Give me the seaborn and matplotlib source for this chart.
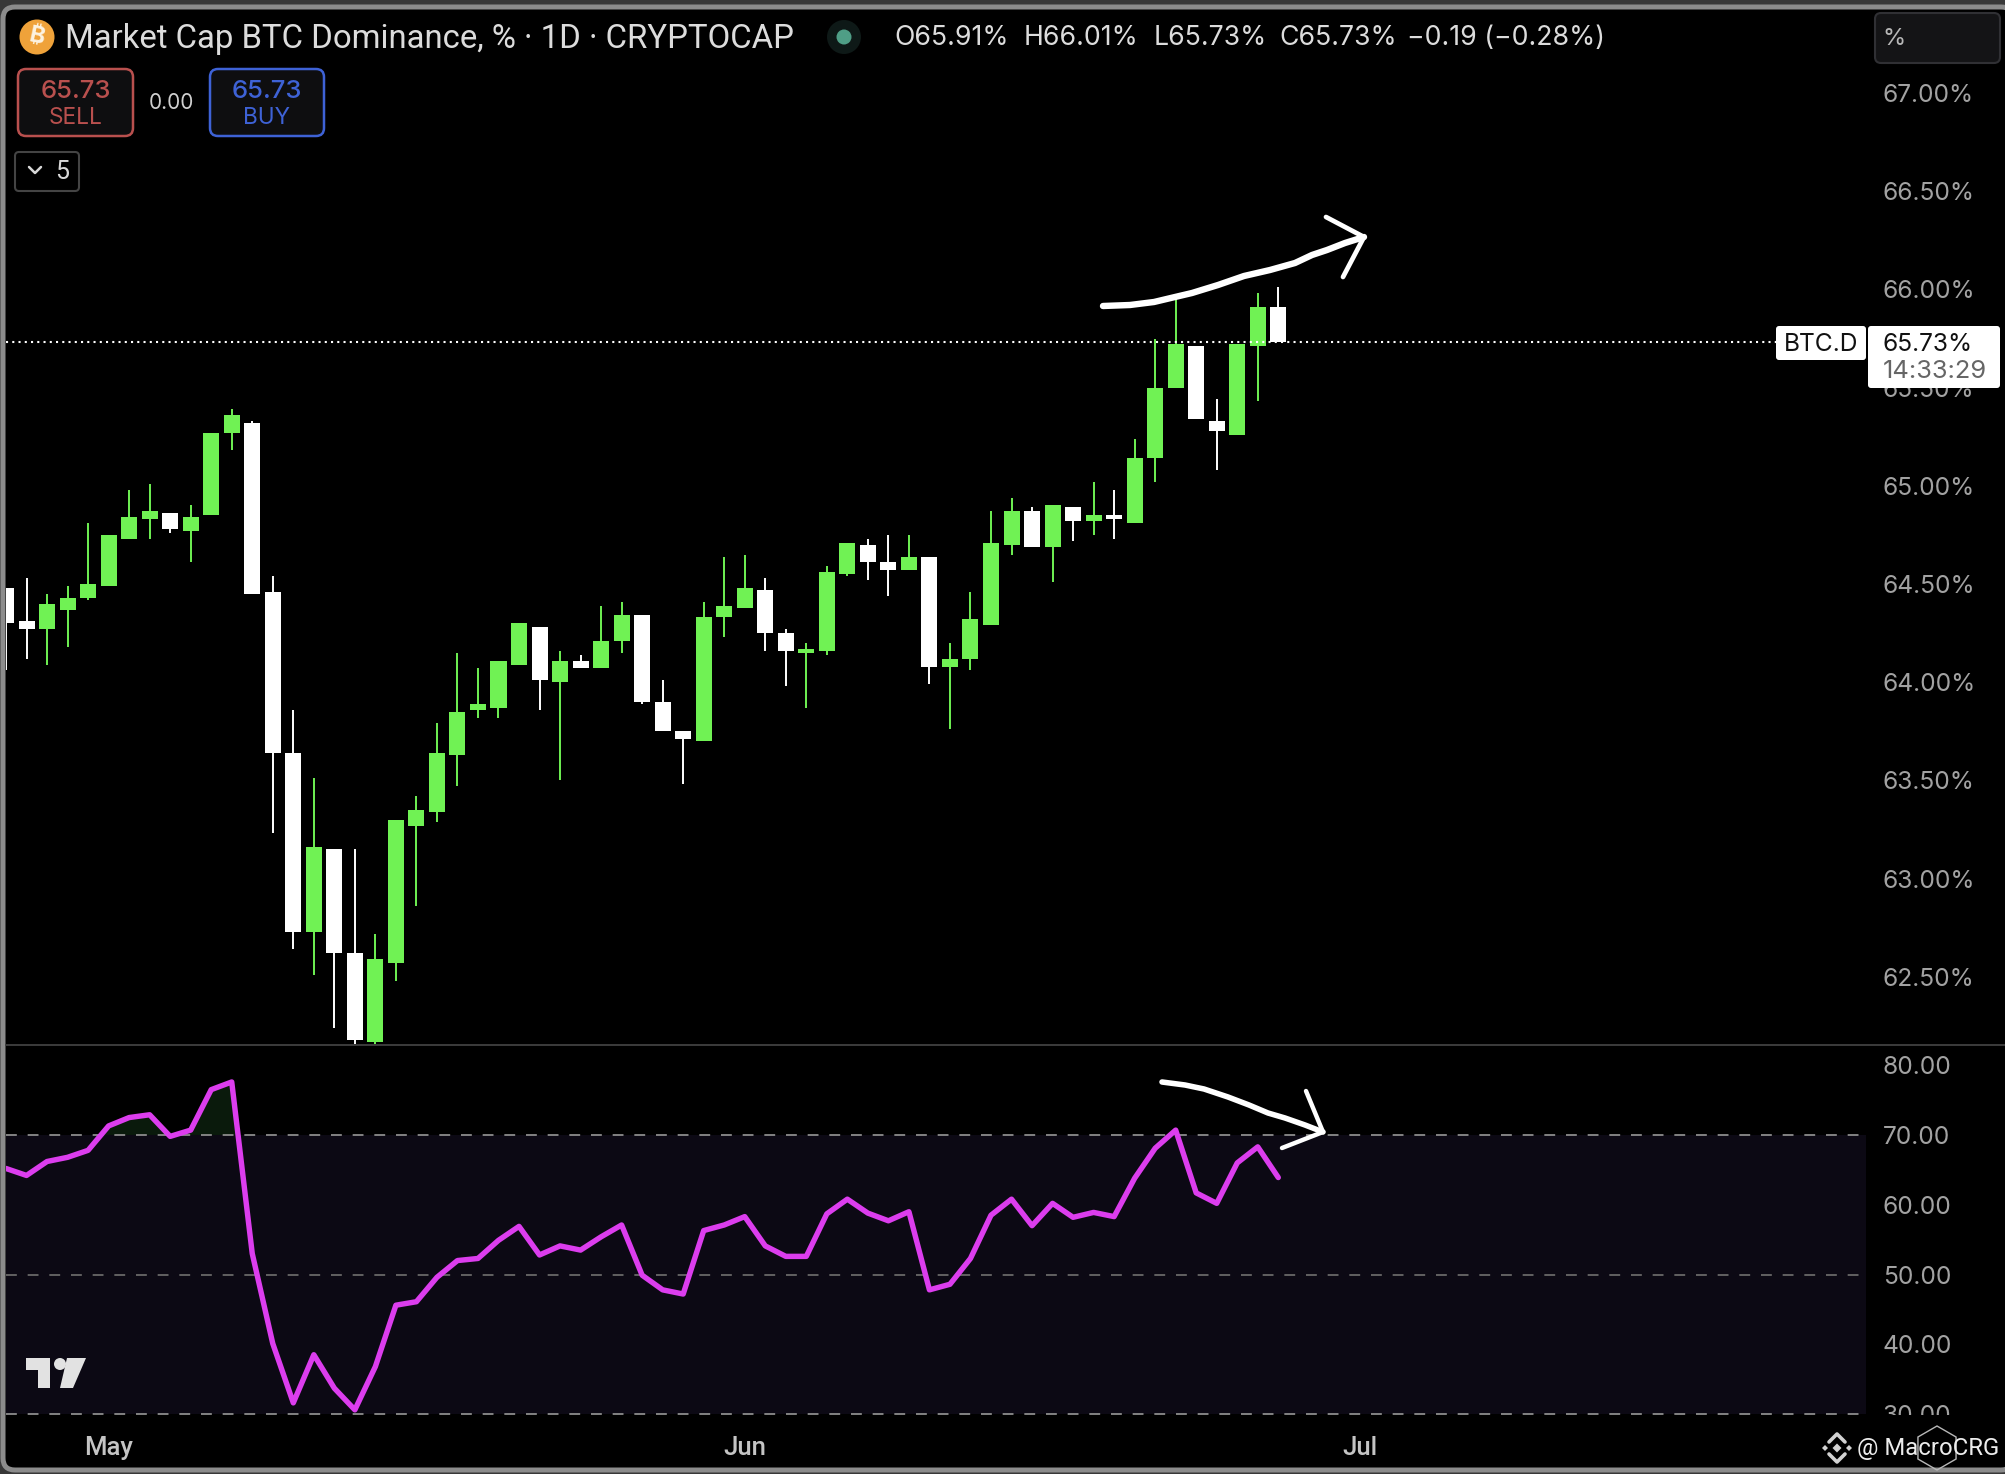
import matplotlib
matplotlib.use("Agg")
import matplotlib.pyplot as plt
import matplotlib.patches as mpatches
import numpy as np
import pandas as pd
import seaborn as sns

# daily candles
opens = [64.48, 64.31, 64.27, 64.37, 64.43, 64.49, 64.73, 64.83, 64.86, 64.77, 64.85, 65.27, 65.32,
         64.46, 63.64, 62.73, 63.15, 62.62, 62.17, 62.57, 63.27, 63.34, 63.63, 63.86, 63.87, 64.09,
         64.28, 64.00, 64.11, 64.07, 64.21, 64.34, 63.90, 63.75, 63.70, 64.33, 64.38, 64.47, 64.25,
         64.15, 64.16, 64.55, 64.70, 64.61, 64.57, 64.64, 64.08, 64.12, 64.29, 64.70, 64.87, 64.69,
         64.89, 64.82, 64.85, 64.81, 65.14, 65.50, 65.71, 65.33, 65.26, 65.71, 65.91]
highs = [64.48, 64.53, 64.45, 64.49, 64.81, 64.75, 64.98, 65.01, 64.86, 64.90, 65.27, 65.39, 65.33,
         64.54, 63.86, 63.51, 63.15, 63.15, 62.72, 63.30, 63.42, 63.79, 64.15, 64.07, 64.11, 64.30,
         64.28, 64.16, 64.14, 64.39, 64.41, 64.34, 64.01, 63.75, 64.41, 64.64, 64.65, 64.53, 64.27,
         64.20, 64.59, 64.71, 64.73, 64.75, 64.75, 64.64, 64.20, 64.46, 64.87, 64.94, 64.89, 64.90,
         64.89, 65.02, 64.98, 65.24, 65.75, 65.95, 65.71, 65.44, 65.72, 65.98, 66.01]
lows = [64.06, 64.12, 64.09, 64.18, 64.42, 64.49, 64.73, 64.73, 64.76, 64.61, 64.85, 65.18, 64.45,
        63.23, 62.64, 62.51, 62.24, 62.16, 62.16, 62.48, 62.86, 63.29, 63.47, 63.82, 63.82, 64.09,
        63.86, 63.50, 64.07, 64.07, 64.15, 63.89, 63.75, 63.48, 63.70, 64.23, 64.38, 64.16, 63.98,
        63.87, 64.14, 64.54, 64.52, 64.44, 64.57, 63.99, 63.76, 64.06, 64.29, 64.65, 64.69, 64.51,
        64.72, 64.75, 64.73, 64.81, 65.02, 65.50, 65.34, 65.08, 65.26, 65.43, 65.73]
closes = [64.30, 64.27, 64.40, 64.43, 64.50, 64.75, 64.84, 64.87, 64.78, 64.84, 65.27, 65.36, 64.45,
          63.64, 62.73, 63.16, 62.62, 62.18, 62.59, 63.30, 63.35, 63.64, 63.85, 63.89, 64.11, 64.30,
          64.01, 64.11, 64.07, 64.21, 64.34, 63.90, 63.75, 63.71, 64.33, 64.39, 64.48, 64.25, 64.16,
          64.17, 64.56, 64.71, 64.61, 64.57, 64.64, 64.08, 64.12, 64.32, 64.71, 64.87, 64.69, 64.90,
          64.82, 64.85, 64.83, 65.14, 65.50, 65.72, 65.34, 65.28, 65.72, 65.91, 65.73]

# RSI pane, one value per candle
rsi = [65.2, 64.2, 66.2, 66.8, 67.8, 71.3, 72.5, 72.9, 69.8, 70.7, 76.5, 77.6, 53.0, 40.1, 31.6, 38.5,
       33.7, 30.6, 36.8, 45.6, 46.1, 49.6, 52.0, 52.3, 54.9, 56.9, 52.8, 54.1, 53.5, 55.4, 57.1, 49.9,
       47.8, 47.2, 56.3, 57.1, 58.3, 54.1, 52.6, 52.6, 58.7, 60.8, 58.8, 57.7, 59.0, 47.8, 48.6, 52.3,
       58.5, 60.8, 57.0, 60.2, 58.2, 58.9, 58.3, 63.8, 68.1, 70.7, 61.7, 60.2, 66.0, 68.3, 63.9]

price_ticks = [62.5, 63.0, 63.5, 64.0, 64.5, 65.0, 65.5, 66.0, 66.5, 67.0]
rsi_ticks = [30, 40, 50, 60, 70, 80]
month_ticks = [5, 36, 66]
month_labels = ["May", "Jun", "Jul"]

W, H = 2006, 1474
GREEN = "#70F254"
GREY = "#a2a2a2"
FONT = "Roboto"


def pane(fig, left, top, right, bottom):
    ax = fig.add_axes([left / W, 1 - bottom / H, (right - left) / W, (bottom - top) / H])
    ax.set_facecolor("none")
    ax.grid(False)
    for spine in ax.spines.values():
        spine.set_visible(False)
    return ax


sns.set_theme(style="dark", rc={"axes.facecolor": "none", "figure.facecolor": "#383838"})
plt.rcParams["font.family"] = ["Inter", "DejaVu Sans"]

df = pd.DataFrame({"open": opens, "high": highs, "low": lows, "close": closes, "rsi": rsi})
df["idx"] = df.index
df["top"] = df[["open", "close"]].max(axis=1)
df["bottom"] = df[["open", "close"]].min(axis=1)
df["color"] = np.where(df["close"] >= df["open"], GREEN, "#ffffff")

fig = plt.figure(figsize=(W / 100, H / 100), dpi=100)

# window background
back = fig.add_axes([0, 0, 1, 1], zorder=-1)
back.set_xlim(0, W)
back.set_ylim(H, 0)
back.axis("off")
back.add_patch(mpatches.FancyBboxPatch((3, 7), 2010, 1463, boxstyle="round,pad=0,rounding_size=12",
                                       fc="black", ec="#8c8c8c", lw=3.6))

# price pane
ax = pane(fig, 6, 8, 1866, 1045)
ax.set_xlim(0, 90.64)
ax.set_ylim(62.153, 67.433)
ax.vlines(df["idx"], df["low"], df["high"], colors=df["color"], linewidth=1.4, zorder=2)
ax.bar(df["idx"], df["top"] - df["bottom"], bottom=df["bottom"], width=0.78, color=df["color"],
       linewidth=0, zorder=3)
ax.axhline(closes[-1], color="white", linewidth=1.5, linestyle=(0, (1, 2)), zorder=4)
ax.set_xticks([])
ax.set_yticks(price_ticks)
ax.set_yticklabels([f"{p:.2f}%" for p in price_ticks])
ax.yaxis.tick_right()
ax.tick_params(axis="y", length=0, pad=12, labelsize=17.7, labelcolor=GREY)
ax.set_xlabel("")
ax.set_ylabel("")

# RSI pane
ax2 = pane(fig, 6, 1045, 1866, 1415)
ax2.set_xlim(0, 90.64)
ax2.set_ylim(29.86, 82.9)
ax2.axhspan(30, 70, color="#0c0914", linewidth=0, zorder=1)
ax2.fill_between(df["idx"], 70, df["rsi"], where=df["rsi"] > 70, interpolate=True, color="#0a1a0c",
                 linewidth=0, zorder=1)
for level, shade in [(70, "#8c8c8c"), (50, "#686868"), (30, "#8c8c8c")]:
    ax2.axhline(level, color=shade, linewidth=1.3, linestyle=(0, (6, 6)), zorder=2, clip_on=False)
sns.lineplot(data=df, x="idx", y="rsi", ax=ax2, color="#DC3DEE", linewidth=3.9, estimator=None,
             zorder=3)
ax2.set_xlabel("")
ax2.set_ylabel("")
ax2.set_yticks(rsi_ticks)
ax2.set_yticklabels([f"{r:.2f}" for r in rsi_ticks])
ax2.yaxis.tick_right()
ax2.tick_params(axis="y", length=0, pad=12, labelsize=17.7, labelcolor=GREY)
ax2.set_xticks(month_ticks)
ax2.set_xticklabels(month_labels, fontname=FONT, fontweight="medium")
ax2.tick_params(axis="x", length=0, pad=15, labelsize=18.5, labelcolor="#c4c4c4")

# everything below is chrome, placed in image pixels
ov = fig.add_axes([0, 0, 1, 1], zorder=10)
ov.set_xlim(0, W)
ov.set_ylim(H, 0)
ov.axis("off")
ov.patch.set_alpha(0)

# divider and the cut-off 30.00 label
ov.plot([6, W], [1045, 1045], color="#3c3c3c", lw=1.4)
ov.add_patch(mpatches.Rectangle((1868, 1415), 138, 50, fc="black", ec="none"))

# legend row
ov.add_patch(mpatches.Circle((37, 37), 17.5, fc="#EFA23A", ec="none"))
ov.text(37, 37, "₿", color="#fdf3e2", fontsize=17, fontweight="bold", ha="center", va="center",
        rotation=-12, family=["Inter", "Noto Sans", "Roboto", "Open Sans", "Lato"])
ov.text(65, 39, "Market Cap BTC Dominance, % · 1D · CRYPTOCAP", color="#dcdcdc", fontsize=23.7,
        ha="left", va="center", family=FONT)
ov.add_patch(mpatches.Circle((844, 37), 17, fc="#0e1917", ec="none"))
ov.add_patch(mpatches.Circle((844, 37), 7.5, fc="#4f9e86", ec="none"))
for x, txt in [(894, "O65.91%"), (1024, "H66.01%"), (1154, "L65.73%"), (1279, "C65.73%"),
               (1407, "−0.19 (−0.28%)")]:
    ov.text(x, 38, txt, color="#dcdcdc", fontsize=19.2, ha="left", va="center")

# sell / buy buttons
for x0, x1, edge, label in [(18, 133, "#B9504E", "SELL"), (210, 324, "#3E62D6", "BUY")]:
    ov.add_patch(mpatches.FancyBboxPatch((x0, 69), x1 - x0, 67, boxstyle="round,pad=0,rounding_size=8",
                                         fc="#0e0e10", ec=edge, lw=1.8))
    ov.text((x0 + x1) / 2, 91, "65.73", color=edge, fontsize=18.5, fontweight="medium", ha="center",
            va="center")
    ov.text((x0 + x1) / 2, 118, label, color=edge, fontsize=16.3, ha="center", va="center")
ov.text(171, 103, "0.00", color="#cfcfcf", fontsize=15, ha="center", va="center")

ov.add_patch(mpatches.FancyBboxPatch((15, 152), 64, 39, boxstyle="round,pad=0,rounding_size=4",
                                     fc="black", ec="#444444", lw=1.5))
ov.plot([29, 35, 41], [167, 173, 167], color="#d8d8d8", lw=1.8)
ov.text(62, 172, "5", color="#d8d8d8", fontsize=18, ha="center", va="center", family=FONT)

ov.add_patch(mpatches.FancyBboxPatch((1875, 13), 125, 50, boxstyle="round,pad=0,rounding_size=6",
                                     fc="#141416", ec="#303034", lw=1.5))
ov.text(1882, 39, "%", color="#b8b8b8", fontsize=17, ha="left", va="center")

# last price tag
ov.add_patch(mpatches.FancyBboxPatch((1776, 326), 90, 34, boxstyle="round,pad=0,rounding_size=3",
                                     fc="white", ec="none"))
ov.add_patch(mpatches.FancyBboxPatch((1868, 326), 132, 62, boxstyle="round,pad=0,rounding_size=3",
                                     fc="white", ec="none"))
ov.text(1821, 344, "BTC.D", color="#111111", fontsize=17.7, ha="center", va="center")
ov.text(1883, 344, "65.73%", color="#111111", fontsize=17.7, ha="left", va="center")
ov.text(1883, 371, "14:33:29", color="#666666", fontsize=18.3, ha="left", va="center")

# hand drawn arrows
ov.plot([1103, 1130, 1154, 1175, 1192, 1218, 1244, 1270, 1295, 1312, 1327, 1345, 1364],
        [306, 305, 302, 297, 293, 285, 276, 270, 263, 255, 250, 243, 237], color="white",
        lw=4.6, solid_capstyle="round", solid_joinstyle="round")
ov.plot([1326, 1364, 1343], [217, 237, 277], color="white", lw=3.4, solid_capstyle="round",
        solid_joinstyle="round")
ov.plot([1162, 1185, 1204, 1228, 1249, 1268, 1285, 1305, 1323],
        [1082, 1085, 1089, 1097, 1105, 1113, 1118, 1125, 1132], color="white", lw=4,
        solid_capstyle="round", solid_joinstyle="round")
ov.plot([1306, 1323, 1282], [1091, 1132, 1148], color="white", lw=3.2, solid_capstyle="round",
        solid_joinstyle="round")

# TV logo
logo = "#e2e2e2"
ov.add_patch(mpatches.Polygon([(26, 1358), (50, 1358), (50, 1388), (38, 1388), (38, 1370), (26, 1370)],
                              fc=logo, ec="none"))
ov.add_patch(mpatches.Circle((60, 1364), 6, fc=logo, ec="none"))
ov.add_patch(mpatches.Polygon([(67, 1358), (86, 1358), (73, 1388), (60, 1388)], fc=logo, ec="none"))

# repost watermark
mark = "#d2d2d2"
for cx, cy, r in [(1837, 1448, 4.5), (1825, 1448, 3), (1849, 1448, 3)]:
    ov.add_patch(mpatches.Polygon([(cx, cy - r), (cx + r, cy), (cx, cy + r), (cx - r, cy)], fc=mark, ec="none"))
ov.plot([1829, 1837, 1845], [1442, 1434, 1442], color=mark, lw=2.6)
ov.plot([1829, 1837, 1845], [1454, 1462, 1454], color=mark, lw=2.6)
ov.text(1857, 1448, "@ MacroCRG", color="#ececec", fontsize=17.2, ha="left", va="center", family=FONT)
ov.add_patch(mpatches.RegularPolygon((1937, 1448), 6, radius=22, fc="none", ec="#b8b8b8", lw=1))

fig.savefig("out.png", dpi=100, facecolor=fig.get_facecolor())
